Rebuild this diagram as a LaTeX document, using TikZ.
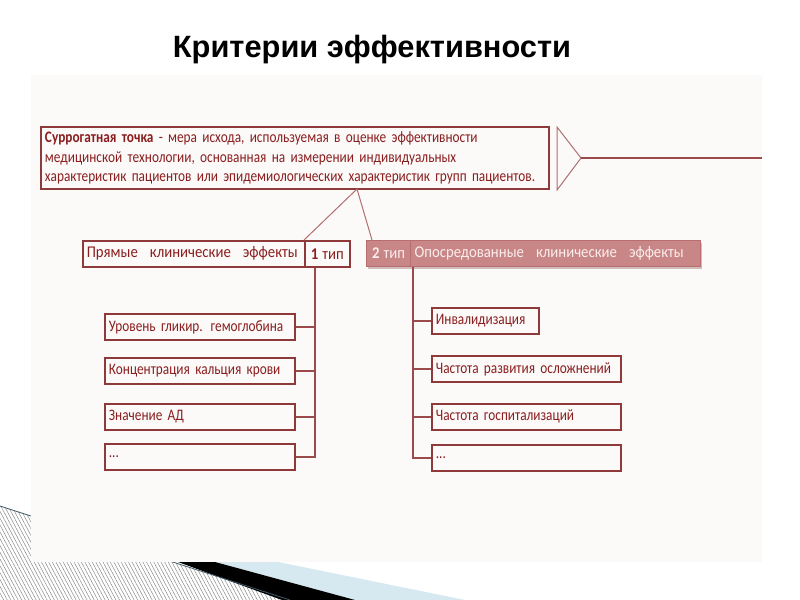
\documentclass[tikz,border=0pt]{standalone}
\usepackage{fontspec}
\setmainfont{Liberation Sans}
\newfontfamily\boxfont[FakeStretch=0.83]{Carlito}
\newfontfamily\headfont[FakeStretch=0.9]{Carlito}
\newcommand\hgap{\hspace{3.3pt} }
\usetikzlibrary{patterns.meta}
\definecolor{bord}{HTML}{8E3A3A}
\definecolor{txt}{HTML}{8A1E1E}
\definecolor{lnk}{HTML}{9B4B4B}
\definecolor{thin}{HTML}{B07070}
\definecolor{hfill}{HTML}{C98686}
\definecolor{hbord}{HTML}{B86E6E}
\definecolor{htxt}{HTML}{FBEDED}
\definecolor{panel}{HTML}{FCF9F9}
\definecolor{lblue}{HTML}{D6E8F0}
\definecolor{hatchc}{HTML}{8A8A8A}
\definecolor{edge}{HTML}{3E5A66}
\tikzset{
  every node/.style={inner ysep=0pt, inner xsep=2pt},
  itembox/.style={draw=bord, line width=0.9pt, text=txt,
    font=\boxfont\fontsize{8}{9.5}\selectfont,
    anchor=north west, align=left, minimum height=13pt},
  headbox/.style={draw=bord, line width=0.8pt, text=txt,
    font=\headfont\fontsize{8.2}{9.5}\selectfont,
    anchor=north west, minimum height=13pt},
  headfill/.style={draw=hbord, fill=hfill, line width=0.6pt, text=htxt,
    font=\headfont\fontsize{8.2}{9.5}\selectfont,
    anchor=north west, minimum height=13pt},
  conn/.style={draw=lnk, line width=1pt},
  tick/.style={draw=lnk, line width=0.7pt},
  thinline/.style={draw=thin, line width=0.5pt},
}
\begin{document}
\begin{tikzpicture}[x=0.5pt,y=-0.5pt]
\useasboundingbox (0,0) rectangle (800,600);
\fill[white] (0,0) rectangle (800,600);
% decoration bottom-left
\fill[pattern={Lines[angle=-62,distance=1.6pt,line width=0.25pt]}, pattern color=hatchc] (0,506) -- (290,600) -- (0,600) -- cycle;
\fill[lblue] (215,562) -- (278,562) -- (465,600) -- (355,600) -- cycle;
\fill[black] (178,562) -- (215,562) -- (355,600) -- (282,600) -- cycle;
\draw[edge, line width=0.4pt] (0,506) -- (290,600);
% panel
\fill[panel] (31,75) rectangle (762,562);
% title
\node[font=\bfseries\fontsize{15.4}{18}\selectfont, anchor=base, inner sep=0pt] (title) at (372,57) {Критерии эффективности};
% top box
\node[itembox, line width=1pt, text width=250pt, minimum height=31pt, inner xsep=2pt,
  font=\boxfont\fontsize{8}{9.8}\selectfont] (top) at (40,126)
  {\mbox{\textbf{Суррогатная точка} - мера исхода, используемая в оценке эффективности}\\
   \mbox{медицинской технологии, основанная на измерении индивидуальных}\\
   \mbox{характеристик пациентов или эпидемиологических характеристик групп пациентов.}};
% right triangle
\coordinate (tri1) at (557,127);
\coordinate (tri2) at (557,190);
\coordinate (tip) at (581,158);
\coordinate (far) at (762,158);
\draw[thinline] (tri1) -- (tri2) -- (tip) -- cycle;
\draw[conn, line width=0.8pt] (tip) -- (far);
% headers
\node[headbox, text width=107pt, align=left, inner xsep=2pt] (h1a) at (82,240) {\mbox{Прямые\hgap клинические\hgap эффекты}};
\node[headbox, minimum width=22.5pt, inner xsep=0pt] (h1b) at (304,240) {\mbox{\textbf{1}\hspace{2pt}тип}};
\fill[hbord!70!black, opacity=0.35] (368,243) rectangle (702,269);
\node[headfill, minimum width=22pt, inner xsep=0pt] (h2a) at (366,240) {\mbox{\textbf{2}\hspace{2pt}тип}};
\node[headfill, text width=141pt, align=left, inner xsep=2pt] (h2b) at (410,240) {\mbox{Опосредованные\hgap клинические\hgap эффекты}};
% roof
\coordinate (roof) at (357,189);
\draw[thinline] (h1b.north west) -- (roof) -- ([xshift=3pt]h2a.north west);
% left items
\node[itembox, text width=91pt] (l1) at (104,313) {\mbox{Уровень гликир. гемоглобина}};
\node[itembox, text width=91pt] (l2) at (104,357) {\mbox{Концентрация кальция крови}};
\node[itembox, text width=91pt] (l3) at (104,403) {Значение АД};
\node[itembox, text width=91pt] (l4) at (104,443) {...};
% right items
\node[itembox, text width=49.5pt] (r1) at (431,307) {Инвалидизация};
\node[itembox, text width=90.5pt] (r2) at (431,355) {\mbox{Частота развития осложнений}};
\node[itembox, text width=90.5pt] (r3) at (431,403) {\mbox{Частота госпитализаций}};
\node[itembox, text width=90.5pt] (r4) at (431,444) {...};
% connectors left
\coordinate (lv) at ([xshift=-6pt]h1b.south);
\draw[conn] (lv) |- (l4.east);
\foreach \n in {l1,l2,l3} \draw[tick] (\n.east) -- (\n.east -| lv);
% connectors right
\coordinate (rv) at ([xshift=1pt]h2a.south east);
\draw[conn] (rv) |- (r4.west);
\foreach \n in {r1,r2,r3} \draw[tick] (\n.west) -- (\n.west -| rv);
\end{tikzpicture}
\end{document}
